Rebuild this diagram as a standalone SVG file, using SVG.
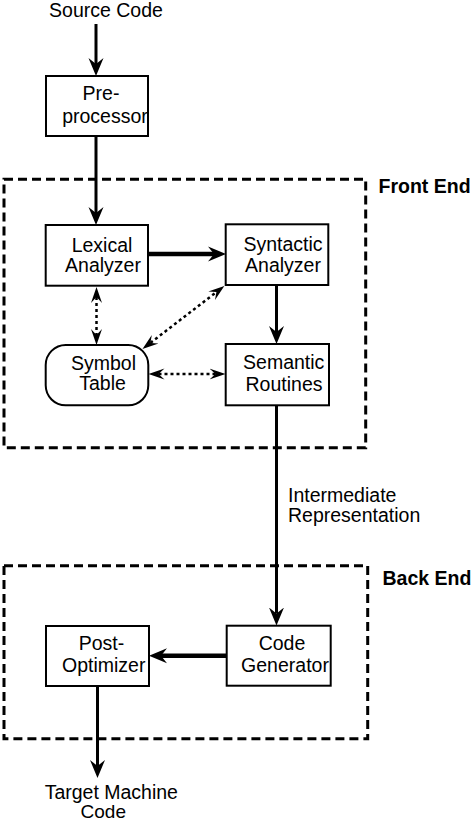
<svg xmlns="http://www.w3.org/2000/svg" width="474" height="823" viewBox="0 0 474 823">
<style>
text{font-family:"Liberation Sans",Arial,sans-serif;font-size:19.5px;fill:#000;text-anchor:middle}
.lbl{text-anchor:start}
.grp{font-weight:bold;text-anchor:start;font-size:19.5px}
.box{fill:#fff;stroke:#000;stroke-width:2}
.frame{fill:none;stroke:#000;stroke-width:3;stroke-dasharray:9 5}
.solid{fill:none;stroke:#000;stroke-width:3;marker-end:url(#ah)}
.thick{stroke-width:4.5}
.dot{fill:none;stroke:#000;stroke-width:2.5;stroke-dasharray:3 3;marker-start:url(#dh);marker-end:url(#dh)}
</style>
<defs>
<marker id="ah" markerUnits="userSpaceOnUse" markerWidth="20" markerHeight="18" viewBox="0 -9 20 18" refX="6" refY="0" orient="auto">
<path d="M0,-7.5 L18,0 L0,7.5 L6,0 Z" fill="#000"/>
</marker>
<marker id="dh" markerUnits="userSpaceOnUse" markerWidth="18" markerHeight="14" viewBox="0 -7 18 14" refX="6" refY="0" orient="auto-start-reverse">
<path d="M0,-5.5 L16,0 L0,5.5 L6,0 Z" fill="#000"/>
</marker>
</defs>

<g id="front-end">
<rect class="frame" x="4" y="179.3" width="361.7" height="268.4"/>
<text class="grp" x="378.5" y="193.3">Front End</text>
</g>
<g id="back-end">
<rect class="frame" x="4" y="565.7" width="363.7" height="173"/>
<text class="grp" x="382.5" y="585">Back End</text>
</g>

<g id="connectors">
<path class="solid" d="M96,24 L96,64"/>
<path class="solid" d="M96,136 L96,213"/>
<path class="solid thick" d="M148,254 L214,254"/>
<path class="solid" d="M276.5,285 L276.5,332"/>
<path class="solid" d="M276.5,405.3 L276.5,613.5"/>
<path class="solid thick" d="M226.7,655.7 L161,655.7"/>
<path class="solid" d="M97.5,686 L97.5,766"/>
<path class="dot" d="M96.5,297 L96.5,335"/>
<path class="dot" d="M150.4,342.9 L216.4,292.1"/>
<path class="dot" d="M158.5,374 L215.5,374"/>
</g>

<g id="source-code"><text x="106" y="16.7">Source Code</text></g>

<g id="preprocessor">
<rect class="box" x="46" y="76" width="102" height="60"/>
<text x="101" y="100">Pre-</text>
<text x="105" y="123.3">processor</text>
</g>

<g id="lexical-analyzer">
<rect class="box" x="45.7" y="225" width="102.3" height="60.7"/>
<text x="102" y="251.5">Lexical</text>
<text x="103" y="271.7">Analyzer</text>
</g>

<g id="syntactic-analyzer">
<rect class="box" x="225.7" y="224.3" width="102.6" height="60.7"/>
<text x="283" y="251">Syntactic</text>
<text x="283" y="271.7">Analyzer</text>
</g>

<g id="symbol-table">
<rect class="box" x="45.7" y="345" width="102.6" height="60.3" rx="20" ry="20"/>
<text x="103.5" y="369.5">Symbol</text>
<text x="102.5" y="390">Table</text>
</g>

<g id="semantic-routines">
<rect class="box" x="225.7" y="344" width="103.3" height="61.3"/>
<text x="283.7" y="369.3">Semantic</text>
<text x="284" y="390.7">Routines</text>
</g>

<g id="intermediate-label">
<text class="lbl" x="288" y="501.7">Intermediate</text>
<text class="lbl" x="288" y="522">Representation</text>
</g>

<g id="code-generator">
<rect class="box" x="226.7" y="625.7" width="104" height="60"/>
<text x="282" y="650">Code</text>
<text x="285" y="671.7">Generator</text>
</g>

<g id="post-optimizer">
<rect class="box" x="46" y="626" width="103" height="60"/>
<text x="101.5" y="650">Post-</text>
<text x="103.7" y="671.7">Optimizer</text>
</g>

<g id="target-code">
<text x="111.3" y="798.5">Target Machine</text>
<text x="103.3" y="817.5" style="font-size:19px">Code</text>
</g>
</svg>
